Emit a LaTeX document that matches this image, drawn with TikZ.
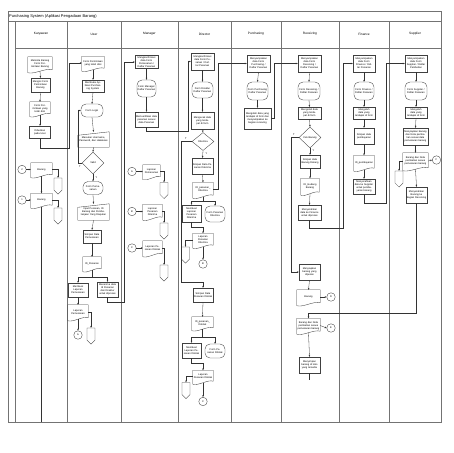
\documentclass[tikz,border=0pt]{standalone}
\usepackage{fontspec}
\setmainfont{Liberation Sans}
\usetikzlibrary{shapes.geometric,shapes.symbols,calc,arrows.meta}
\newcommand\dgfont{\fontsize{2.5}{2.95}\selectfont}
\newcommand\hdfont{\fontsize{3.2}{4}\selectfont}
\newcommand\ttlfont{\fontsize{4}{5}\selectfont}
\tikzset{
 frame/.style={draw=black!55, line width=0.55pt},
 conn/.style={draw=black!80, line width=0.3pt, -{Stealth[length=2pt,width=1.6pt]}},
 plain/.style={draw=black!80, line width=0.3pt},
 outl/.style={draw=black!75, line width=0.35pt},
 box/.style={outl, rectangle, align=center, inner sep=0.5pt, font=\dgfont},
 term/.style={box, rounded corners=5pt},
 txt/.style={align=center, inner sep=0.5pt, font=\dgfont},
 diam/.style={outl, diamond, inner sep=0pt, font=\dgfont, align=center},
 offp/.style={outl, signal, signal to=south, inner sep=0pt, minimum width=8pt, minimum height=12pt},
 conc/.style={outl, circle, inner sep=0pt, minimum size=8.5pt, font=\dgfont},
 lbl/.style={inner sep=0pt, font=\dgfont},
 hd/.style={inner sep=0pt, font=\hdfont},
}
\newcommand\docdraw[1]{\draw[outl] (#1.north west) -- (#1.north east) -- ($(#1.south east)+(0,-1.5)$) .. controls ($(#1.south)!0.5!(#1.south east)+(0,-3.5)$) and ($(#1.south)!0.5!(#1.south west)+(0,3.5)$) .. ($(#1.south west)+(0,1.5)$) -- cycle;}
\newcommand\mandraw[1]{\draw[outl] (#1.south west) -- ($(#1.north west)+(0,3.5)$) -- (#1.north east) -- (#1.south east) -- cycle;}
\begin{document}
\begin{tikzpicture}[x=1pt,y=-1pt]
\useasboundingbox[fill=white] (0,0) rectangle (453,453);
% frame
\draw[frame] (8,11) rectangle (441,422);
\draw[frame] (8,21) -- (441,21);
\draw[frame] (15,21) -- (15,422);
\draw[frame] (15,48) -- (441,48);
\foreach \xx in {67,121,178,231,281,339,389} {\draw[frame] (\xx,21) -- (\xx,422);}
\node[anchor=west, inner sep=0pt, font=\ttlfont] (title) at (9,16) {Purchasing System (Aplikasi Pengadaan Barang)};
\node[hd] (h1) at (41,34) {Karyawan};
\node[hd] (h2) at (94,34) {User};
\node[hd] (h3) at (149.5,34) {Manager};
\node[hd] (h4) at (204.5,34) {Director};
\node[hd] (h5) at (256,34) {Purchasing};
\node[hd] (h6) at (310,34) {Receiving};
\node[hd] (h7) at (364,34) {Finance};
\node[hd] (h8) at (415,34) {Supplier};

% ---------- Karyawan
\node[txt, text width=23pt, minimum height=14pt] (k1) at (40,64) {Meminta Barang Form Permintaan Barang}; \docdraw{k1}
\node[box, text width=18pt, minimum height=14pt] (k2) at (40.5,85) {Mengisi Form Permintaan Barang};
\node[txt, text width=19pt, minimum height=13pt] (k3) at (40,108.5) {Form Permintaan yang telah diisi}; \docdraw{k3}
\node[box, text width=20pt, minimum height=12pt] (k4) at (40,132) {Diberikan pada User};
\node[conc] (kc2) at (22,169.5) {2};
\node[txt, text width=20pt, minimum height=13pt] (kb1) at (41.5,169.5) {Barang}; \docdraw{kb1}
\node[offp] (kp1) at (58,184) {};
\node[conc] (kc1) at (22,200) {1};
\node[txt, text width=20pt, minimum height=13pt] (kb2) at (41.5,200) {Barang}; \docdraw{kb2}
\node[offp] (kp2) at (58,214) {};
\coordinate (kend) at (41.5,422);

% ---------- User
\node[txt, text width=21pt, minimum height=13pt] (u1) at (93,63) {Form Permintaan yang telah diisi}; \docdraw{u1}
\node[box, text width=21pt, minimum height=12pt] (u2) at (93,86) {Membuka Aplikasi Purchasing System};
\node[term, text width=21pt, minimum height=13pt] (u3) at (92,110.5) {Form Login};
\node[txt, text width=30pt, minimum height=15pt] (u4) at (93.5,139.5) {\\[-1pt]Masukan Username, Password, dan Hakakses}; \mandraw{u4}
\node[diam, minimum width=22pt, minimum height=22pt] (u5) at (93,163) {Valid};
\node[term, text width=19pt, minimum height=13pt] (u6) at (93,188) {Form Pemesanan};
\node[txt, text width=30pt, minimum height=16pt] (u7) at (93.5,212) {\\[-1pt]Input Pesanan, ID Barang dan Pembelanjaan Yang Diajukan}; \mandraw{u7}
\node[box, text width=17pt, minimum height=13pt] (u8) at (92,236.5) {Simpan Data Pemesanan};
\node[txt, text width=17pt, minimum height=13pt] (u9) at (92,263.5) {ID\_Pesanan}; \docdraw{u9}
\node[box, text width=19pt, minimum height=14pt] (u10) at (78,290) {Membuat Laporan Pemesanan};
\node[box, text width=20pt, minimum height=15pt] (u11) at (107.5,289.5) {Menerima data Id Pesanan dari Direktur untuk diproses};
\node[txt, text width=19pt, minimum height=14pt] (u12) at (78,312) {Laporan Pemesanan}; \docdraw{u12}
\node[conc] (uA) at (78,335) {A};
\node[offp] (up1) at (91,334) {};
\coordinate (u9s) at (92,277);
\node[lbl] (uT) at (80,167) {T};
\node[lbl] (uY) at (96.5,177.5) {Y};

% ---------- Manager
\node[box, text width=22pt, minimum height=13pt] (m1) at (146.5,62) {Mengkonfirmasi data Form Pemesanan / Daftar Pesanan};
\node[term, text width=18pt, minimum height=17pt] (m2) at (146.5,88.5) {Form Manager Daftar Pesanan};
\node[box, text width=22pt, minimum height=15pt] (m3) at (146.5,119.5) {Memverifikasi data pesanan sesuai data Pesanan};
\node[conc] (mA) at (132,171.5) {A};
\node[txt, text width=16pt, minimum height=13pt] (m4) at (151.5,171.5) {Laporan Pemesanan}; \docdraw{m4}
\node[offp] (mp1) at (164,188.5) {};
\node[conc] (mB) at (132,211.5) {B};
\node[txt, text width=18pt, minimum height=14pt] (m5) at (152.5,211.5) {Laporan Pesanan Diterima}; \docdraw{m5}
\node[offp] (mp2) at (164,229) {};
\node[conc] (mC) at (132,248) {C};
\node[txt, text width=18pt, minimum height=14pt] (m6) at (152.5,248) {Laporan Pesanan Ditolak}; \docdraw{m6}
\node[offp] (mp3) at (164,271) {};

% ---------- Director
\node[box, text width=22pt, minimum height=17pt] (d1) at (202.5,61.5) {Mengkonfirmasi data Form Pesanan / Daftar Pesanan};
\node[term, text width=20pt, minimum height=16pt] (d2) at (202.5,90) {Form Direktur Daftar Pesanan};
\node[box, text width=22pt, minimum height=17pt] (d3) at (202.5,120.5) {Mengecek data yang terdapat di form};
\node[diam, minimum width=22pt, minimum height=18pt] (d4) at (203,141.5) {Diterima};
\node[box, text width=20pt, minimum height=16pt] (d5) at (202.5,166) {Simpan Data Pesanan Diterima};
\node[txt, text width=19pt, minimum height=14pt] (d6) at (203,189.5) {ID\_pesanan\_ Diterima}; \docdraw{d6}
\node[box, text width=18pt, minimum height=17pt] (d7) at (191.5,213.5) {Membuat Laporan Pesanan Diterima};
\node[term, text width=19pt, minimum height=16pt] (d8) at (215,214) {Form Pesanan Diterima};
\node[txt, text width=19pt, minimum height=13pt] (d9) at (203,240) {Laporan Pesanan Diterima}; \docdraw{d9}
\node[offp] (dp1) at (185.5,253) {};
\node[conc] (dB) at (203,264) {B};
\node[box, text width=19pt, minimum height=14pt] (d10) at (203,295) {Simpan Data Pesanan Ditolak};
\node[txt, text width=20pt, minimum height=12pt] (d11) at (202.5,323) {ID\_pesanan\_ Ditolak}; \docdraw{d11}
\node[box, text width=18pt, minimum height=15pt] (d12) at (191.5,350.5) {Membuat Laporan Pesanan Ditolak};
\node[term, text width=19pt, minimum height=14pt] (d13) at (215,351) {Form Pesanan Ditolak};
\node[txt, text width=19pt, minimum height=12pt] (d14) at (203,376.5) {Laporan Pesanan Ditolak}; \docdraw{d14}
\node[offp] (dp2) at (186,388.5) {};
\node[conc] (dC) at (203,401.5) {C};
\coordinate (d6s) at (203,201);
\coordinate (d11s) at (202.5,337);
\node[lbl] (dT) at (186,138.5) {T};
\node[lbl] (dY) at (206.5,154) {Y};

% ---------- Purchasing
\node[box, text width=22pt, minimum height=17pt] (pu1) at (258.5,63.5) {Menyampaikan data Form Purchasing / Daftar Pesanan};
\node[term, text width=20pt, minimum height=18pt] (pu2) at (257.5,91) {Form Purchasing Daftar Pesanan};
\node[box, text width=26pt, minimum height=21pt] (pu3) at (257.5,118.5) {Mengolah data yang terdapat di form dan menyampaikan ke bagian receiving};

% ---------- Receiving
\node[box, text width=22pt, minimum height=17pt] (r1) at (309.5,63.5) {Menyampaikan data Form Receiving / Daftar Pesanan};
\node[term, text width=21pt, minimum height=18pt] (r2) at (309,91) {Form Receiving / Daftar Pesanan};
\node[box, text width=22pt, minimum height=12pt] (r3) at (309.5,113) {Mengolah data yang terdapat di form};
\node[diam, minimum width=22pt, minimum height=21pt] (r4) at (310,137.5) {Cek Barang};
\node[box, text width=19pt, minimum height=13pt] (r5) at (310,161.5) {Simpan data Barang Datang};
\node[txt, text width=17pt, minimum height=15pt] (r6) at (310,186) {ID\_Gudang Barang}; \docdraw{r6}
\node[box, text width=22pt, minimum height=15pt] (r7) at (309.5,212.5) {Menyerahkan data ke Finance untuk diproses};
\node[box, text width=20pt, minimum height=16pt] (r8) at (309.5,272) {Menyiapkan barang yang dipesan};
\node[txt, text width=22pt, minimum height=14pt] (r9) at (308.5,297) {Barang}; \docdraw{r9}
\node[conc] (rD) at (331,297) {D};
\node[txt, text width=22pt, minimum height=14pt] (r10) at (308.5,325.5) {Barang dan Nota pembelian sesuai pemesanan barang}; \docdraw{r10}
\node[conc] (rE) at (331,328) {E};
\node[box, text width=20pt, minimum height=16pt] (r11) at (309.5,365) {Menyimpan barang di toko yang tersedia};
\coordinate (rend) at (309.5,380);
\node[lbl] (rT) at (294,134.5) {T};
\node[lbl] (rY) at (313.5,151) {Y};

% ---------- Finance
\node[box, text width=21pt, minimum height=17pt] (f1) at (364,63.5) {Menyampaikan data Form Finance / Daftar Pesanan};
\node[term, text width=19pt, minimum height=18pt] (f2) at (364,91) {Form Finance / Daftar Pesanan};
\node[box, text width=21pt, minimum height=12pt] (f3) at (364,113) {Mengolah data yang terdapat di form};
\node[box, text width=19pt, minimum height=16pt] (f4) at (364,136) {Simpan data pembayaran};
\node[txt, text width=19pt, minimum height=14pt] (f5) at (364,162.5) {ID\_pembayaran}; \docdraw{f5}
\node[box, text width=21pt, minimum height=15pt] (f6) at (364,186.5) {Menyerahkan data ke Supplier untuk pembayaran barang};

% ---------- Supplier
\node[box, text width=21pt, minimum height=17pt] (s1) at (416,63.5) {Menyampaikan data Form Supplier / Daftar Pembelian};
\node[term, text width=21pt, minimum height=18pt] (s2) at (416,91) {Form Supplier / Daftar Pesanan};
\node[box, text width=21pt, minimum height=11pt] (s3) at (416,112.5) {Mengolah data yang terdapat di form};
\node[box, text width=24pt, minimum height=17pt] (s4) at (415.5,136.5) {Menyiapkan barang dan Nota pembelian sesuai data pemesanan barang};
\node[txt, text width=24pt, minimum height=16pt] (s5) at (415.5,161) {Barang dan Nota pembelian sesuai pemesanan barang}; \docdraw{s5}
\node[conc] (sF) at (436.5,160) {F};
\node[offp] (sp) at (399,177) {};
\node[box, text width=20pt, minimum height=16pt] (s6) at (416.5,195) {Menyerahkan Barang ke bagian Receiving};

% ---------- connectors
\draw[conn] (k1.south) -- (k2.north);
\draw[conn] (k2.south) -- (k3.north);
\draw[conn] (k3.south) -- (k4.north);
\draw[conn] (k4.south) -- (40,148) -- (69,148) |- (u1.west);
\draw[conn] (kc2.east) -- (kb1.west);
\draw[conn] (kb1.east) -| (kp1.north);
\draw[conn] (kb1.south) -- (kb2.north);
\draw[conn] (kc1.east) -- (kb2.west);
\draw[conn] (kb2.east) -| (kp2.north);
\draw[plain] (kb2.south) -- (kend);

\draw[conn] (u1.south) -- (u2.north);
\draw[conn] (u2.south) -- (u3.north);
\draw[conn] (u3.south) -- (u4.north);
\draw[conn] (u4.south) -- (u5.north);
\draw[conn] (u5.south) -- (u6.north);
\draw[conn] (u5.west) -- (78,163) |- (u3.west);
\draw[conn] (u6.south) -- (u7.north);
\draw[conn] (u7.south) -- (u8.north);
\draw[conn] (u8.south) -- (u9.north);
\draw[plain] (u9.south) -- (u9s);
\draw[conn] (u9s) -| (u10.north);
\draw[conn] (u9s) -| (u11.north);
\draw[conn] (u10.south) -- (u12.north);
\draw[conn] (u12.east) -| (up1.north);
\draw[conn] (u12.south) -- (uA.north);
\draw[conn] (u11.south) -- (107.5,302) -- (124,302) |- (m1.west);

\draw[conn] (m1.south) -- (m2.north);
\draw[conn] (m2.south) -- (m3.north);
\draw[conn] (m3.south) -- (146.5,131) -- (188,131) |- (d1.west);
\draw[conn] (mA.east) -- (m4.west);
\draw[conn] (m4.east) -| (mp1.north);
\draw[conn] (mB.east) -- (m5.west);
\draw[conn] (m5.east) -| (mp2.north);
\draw[conn] (mC.east) -- (m6.west);
\draw[conn] (m6.east) -| (mp3.north);

\draw[conn] (d1.south) -- (d2.north);
\draw[conn] (d2.south) -- (d3.north);
\draw[conn] (d3.south) -- (d4.north);
\draw[conn] (d4.south) -- (d5.north);
\draw[conn] (d5.south) -- (d6.north);
\draw[conn] (d6.east) -- (218,189.5) |- (pu1.west);
\draw[plain] (d6.south) -- (d6s);
\draw[conn] (d6s) -| (d7.north);
\draw[conn] (d6s) -| (d8.north);
\draw[conn] (d7.south) -- (191.5,227) -| (d9.north);
\draw[conn] (d9.west) -| (dp1.north);
\draw[conn] (d9.south) -- (dB.north);
\draw[conn] (d4.west) -- (181,141.5) -- (181,282) -| (d10.north);
\draw[conn] (d10.south) -- (d11.north);
\draw[plain] (d11.south) -- (d11s);
\draw[conn] (d11s) -| (d12.north);
\draw[conn] (d11s) -| (d13.north);
\draw[conn] (d12.south) -- (191.5,363) -| (d14.north);
\draw[conn] (d14.west) -| (dp2.north);
\draw[conn] (d14.south) -- (dC.north);

\draw[conn] (pu1.south) -- (pu2.north);
\draw[conn] (pu2.south) -- (pu3.north);
\draw[conn] (pu3.east) -- (274,118.5) |- (r1.west);

\draw[conn] (r1.south) -- (r2.north);
\draw[conn] (r2.south) -- (r3.north);
\draw[conn] (r3.south) -- (r4.north);
\draw[conn] (r4.south) -- (r5.north);
\draw[conn] (r5.south) -- (r6.north);
\draw[conn] (r6.south) -- (r7.north);
\draw[conn] (r7.south) -- (309.5,228) -- (343,228) |- (f1.west);
\draw[conn] (r4.west) -- (291,137.5) |- (r8.west);
\draw[conn] (r8.south) -- (r9.north);
\draw[conn] (r9.east) -- (rD.west);
\draw[conn] (s6.south) -- (416.5,313) -| (r10.north);
\draw[conn] (r10.east) -- (rE.west);
\draw[conn] (r10.south) -- (r11.north);
\draw[plain] (r11.south) -- (rend);

\draw[conn] (f1.south) -- (f2.north);
\draw[conn] (f2.south) -- (f3.north);
\draw[conn] (f3.south) -- (f4.north);
\draw[conn] (f4.south) -- (f5.north);
\draw[conn] (f5.south) -- (f6.north);
\draw[conn] (f6.south) -- (364,203) -- (386,203) |- (s1.west);

\draw[conn] (s1.south) -- (s2.north);
\draw[conn] (s2.south) -- (s3.north);
\draw[conn] (s3.south) -- (s4.north);
\draw[conn] (s4.south) -- (s5.north);
\draw[conn] (s5.south) -- (s6.north);
\draw[conn] (s5.east) -- (sF.west);
\draw[conn] (s5.west) -| (sp.north);
\end{tikzpicture}
\end{document}
